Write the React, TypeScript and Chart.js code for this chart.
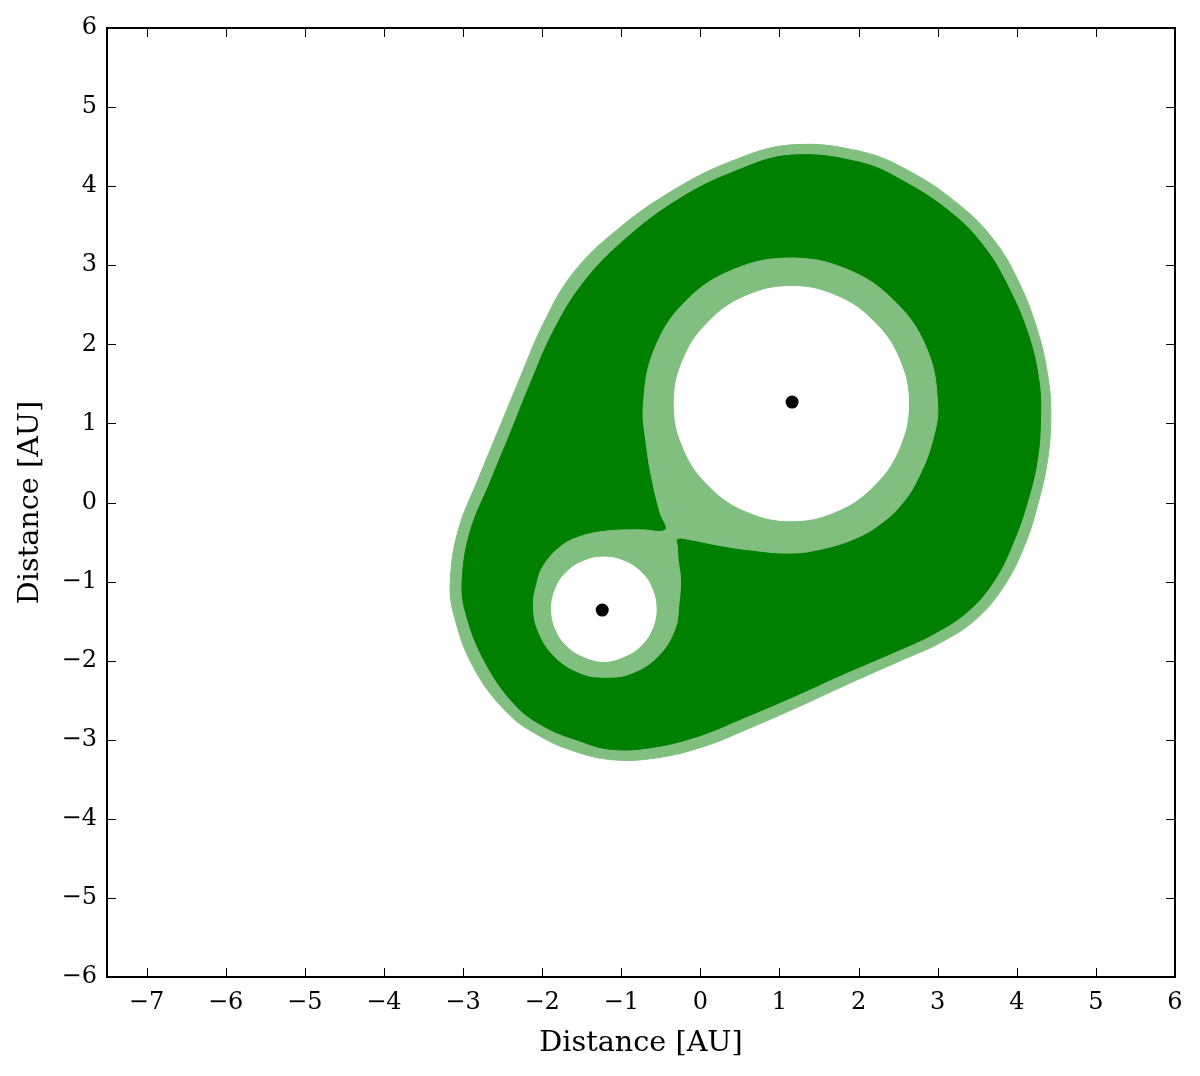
import React, { useEffect, useRef } from 'react';
import { Chart, registerables } from 'chart.js';

Chart.register(...registerables);

// Axis ticks
const X_TICKS = [-7, -6, -5, -4, -3, -2, -1, 0, 1, 2, 3, 4, 5, 6];
const Y_TICKS = [-6, -5, -4, -3, -2, -1, 0, 1, 2, 3, 4, 5, 6];
const AXIS_TITLE_X = 'Distance [AU]';
const AXIS_TITLE_Y = 'Distance [AU]';

// Outermost (light) contour
const OUTER_LIMIT: [number, number][] = [
  [1.14, 4.52], [2.02, 4.44], [2.66, 4.18], [3.29, 3.75], [3.71, 3.32], [4.01, 2.82],
  [4.26, 2.18], [4.4, 1.55], [4.43, 1.05], [4.39, 0.54], [4.28, 0.03], [4.1, -0.54],
  [3.83, -1.07], [3.48, -1.48], [3.04, -1.77], [2.53, -2.0], [1.9, -2.28], [1.27, -2.57],
  [0.63, -2.85], [0.0, -3.1], [-0.63, -3.24], [-1.14, -3.25], [-1.58, -3.15], [-2.02, -2.96],
  [-2.44, -2.66], [-2.87, -2.08], [-3.12, -1.4], [-3.16, -0.98], [-3.06, -0.35], [-2.81, 0.29],
  [-2.55, 0.92], [-2.29, 1.55], [-1.98, 2.27], [-1.61, 2.9], [-1.05, 3.45], [-0.34, 3.95],
  [0.38, 4.31],
];

// Dark region contour
const DARK_REGION: [number, number][] = [
  [1.14, 4.39], [2.02, 4.3], [2.59, 4.05], [3.2, 3.64], [3.59, 3.23], [3.88, 2.75],
  [4.14, 2.14], [4.28, 1.54], [4.3, 1.05], [4.26, 0.54], [4.15, 0.06], [3.97, -0.47],
  [3.72, -0.98], [3.39, -1.37], [2.97, -1.65], [2.48, -1.88], [1.85, -2.15], [1.21, -2.44],
  [0.58, -2.71], [-0.04, -2.96], [-0.63, -3.1], [-1.14, -3.12], [-1.54, -3.01], [-1.96, -2.84],
  [-2.34, -2.56], [-2.73, -2.0], [-2.97, -1.38], [-3.01, -0.98], [-2.91, -0.37], [-2.66, 0.25],
  [-2.4, 0.88], [-2.15, 1.5], [-1.85, 2.18], [-1.47, 2.79], [-0.96, 3.32], [-0.28, 3.83],
  [0.42, 4.18],
];

// Inner light lobes (both stars, joined at the saddle)
const INNER_LOBES: [number, number][] = [
  [1.14, 3.09], [1.85, 2.95], [2.45, 2.55], [2.86, 1.95], [3.0, 1.24], [2.93, 0.76],
  [2.75, 0.3], [2.57, 0.01], [2.33, -0.23], [1.97, -0.45], [1.48, -0.6], [1.1, -0.64],
  [0.63, -0.6], [0.22, -0.54], [-0.13, -0.47], [-0.29, -0.46], [-0.29, -0.57], [-0.28, -0.72],
  [-0.25, -0.98], [-0.27, -1.28], [-0.32, -1.6], [-0.53, -1.94], [-0.87, -2.16], [-1.19, -2.21],
  [-1.51, -2.16], [-1.85, -1.94], [-2.06, -1.6], [-2.11, -1.28], [-2.07, -1.04], [-1.99, -0.81],
  [-1.77, -0.56], [-1.52, -0.43], [-1.18, -0.36], [-0.76, -0.345], [-0.44, -0.345], [-0.51, -0.13],
  [-0.61, 0.29], [-0.68, 0.71], [-0.72, 1.24], [-0.58, 1.94], [-0.18, 2.55], [0.43, 2.95],
];

// Empty (forbidden) zones around the stars
const PRIMARY_HOLE: [number, number][] = [
  [2.63, 1.25], [2.51, 1.82], [2.19, 2.29], [1.72, 2.61], [1.15, 2.73], [0.58, 2.61],
  [0.11, 2.29], [-0.21, 1.82], [-0.33, 1.25], [-0.21, 0.68], [0.11, 0.21], [0.58, -0.11],
  [1.15, -0.23], [1.72, -0.11], [2.19, 0.21], [2.51, 0.68],
];
const SECONDARY_HOLE: [number, number][] = [
  [-0.56, -1.35], [-0.61, -1.09], [-0.75, -0.88], [-0.97, -0.74], [-1.22, -0.69], [-1.47, -0.74],
  [-1.69, -0.88], [-1.83, -1.09], [-1.88, -1.35], [-1.83, -1.6], [-1.69, -1.81], [-1.47, -1.95],
  [-1.22, -2.01], [-0.97, -1.95], [-0.75, -1.81], [-0.61, -1.6],
];

// Stars
const STARS: [number, number][] = [[1.16, 1.27], [-1.24, -1.36]];

const LIGHT = '#80bf80';
const DARK = '#008000';
const FONT_FAMILY = "'DejaVu Serif', 'Liberation Serif', serif";

// closed loop, wrapped so the spline is smooth across the seam
const closed = (arr: [number, number][]) =>
  [arr[arr.length - 1], ...arr, arr[0], arr[1]].map(([x, y]) => ({ x, y }));

const fmt = (v: number) => (v < 0 ? '\u2212' + Math.abs(v) : String(v));

const framePlugin = {
  id: 'frameTicks',
  afterDraw(chart: any) {
    const { ctx, chartArea: a, scales } = chart;
    const L = 9;
    ctx.save();
    ctx.strokeStyle = '#000';
    ctx.lineWidth = 1;
    ctx.beginPath();
    X_TICKS.forEach((v) => {
      const px = Math.round(scales.x.getPixelForValue(v)) + 0.5;
      ctx.moveTo(px, a.bottom);
      ctx.lineTo(px, a.bottom - L);
      ctx.moveTo(px, a.top);
      ctx.lineTo(px, a.top + L);
    });
    Y_TICKS.forEach((v) => {
      const py = Math.round(scales.y.getPixelForValue(v)) + 0.5;
      ctx.moveTo(a.left, py);
      ctx.lineTo(a.left + L, py);
      ctx.moveTo(a.right, py);
      ctx.lineTo(a.right - L, py);
    });
    ctx.stroke();
    ctx.lineWidth = 2;
    ctx.strokeRect(a.left, a.top, a.right - a.left, a.bottom - a.top);
    ctx.restore();
  },
};

export default function App() {
  const ref = useRef<HTMLCanvasElement>(null);

  useEffect(() => {
    document.body.style.margin = '0';
    const canvas = ref.current;
    if (!canvas) return;

    const poly = (data: [number, number][], color: string, order: number) => ({
      data: closed(data),
      showLine: true,
      fill: 'shape',
      backgroundColor: color,
      borderColor: color,
      borderWidth: 1,
      pointRadius: 0,
      pointHoverRadius: 0,
      tension: 0.4,
      order,
    });

    const tickFont = { family: FONT_FAMILY, size: 24 };
    const titleFont = { family: FONT_FAMILY, size: 28.7 };

    const chart = new Chart(canvas, {
      type: 'line',
      data: {
        datasets: [
          poly(OUTER_LIMIT, LIGHT, 10),
          poly(DARK_REGION, DARK, 9),
          poly(INNER_LOBES, LIGHT, 8),
          poly(PRIMARY_HOLE, '#ffffff', 7),
          poly(SECONDARY_HOLE, '#ffffff', 6),
          {
            data: STARS.map(([x, y]) => ({ x, y })),
            showLine: false,
            fill: false,
            pointRadius: 6.5,
            pointBackgroundColor: '#000',
            pointBorderColor: '#000',
            pointBorderWidth: 0,
            order: 1,
          } as any,
        ] as any,
      },
      options: {
        animation: false,
        responsive: false,
        devicePixelRatio: 1,
        events: [],
        layout: { padding: { top: 28, right: 25, left: 0, bottom: 0 } },
        plugins: {
          legend: { display: false },
          tooltip: { enabled: false },
        },
        scales: {
          x: {
            type: 'linear',
            min: -7.5,
            max: 6,
            afterBuildTicks: (s: any) => {
              s.ticks = X_TICKS.map((v) => ({ value: v }));
            },
            afterFit: (s: any) => {
              s.height = 99;
            },
            ticks: {
              callback: (v: any) => fmt(Number(v)),
              font: tickFont,
              color: '#000',
              padding: 11,
              maxRotation: 0,
              autoSkip: false,
            },
            grid: { display: false, drawTicks: false },
            border: { display: false },
            title: {
              display: true,
              text: AXIS_TITLE_X,
              font: titleFont,
              color: '#000',
              padding: { top: 0, bottom: 15 },
            },
          },
          y: {
            type: 'linear',
            min: -6,
            max: 6,
            afterBuildTicks: (s: any) => {
              s.ticks = Y_TICKS.map((v) => ({ value: v }));
            },
            afterFit: (s: any) => {
              s.width = 107;
            },
            ticks: {
              callback: (v: any) => fmt(Number(v)),
              font: tickFont,
              color: '#000',
              padding: 10,
              autoSkip: false,
            },
            grid: { display: false, drawTicks: false },
            border: { display: false },
            title: {
              display: true,
              text: AXIS_TITLE_Y,
              font: titleFont,
              color: '#000',
              padding: { top: 13, bottom: 0 },
            },
          },
        },
      } as any,
      plugins: [framePlugin],
    });

    return () => chart.destroy();
  }, []);

  return (
    <div style={{ width: 1200, height: 1076, background: '#fff' }}>
      <canvas ref={ref} width={1200} height={1076} style={{ display: 'block' }} />
    </div>
  );
}
